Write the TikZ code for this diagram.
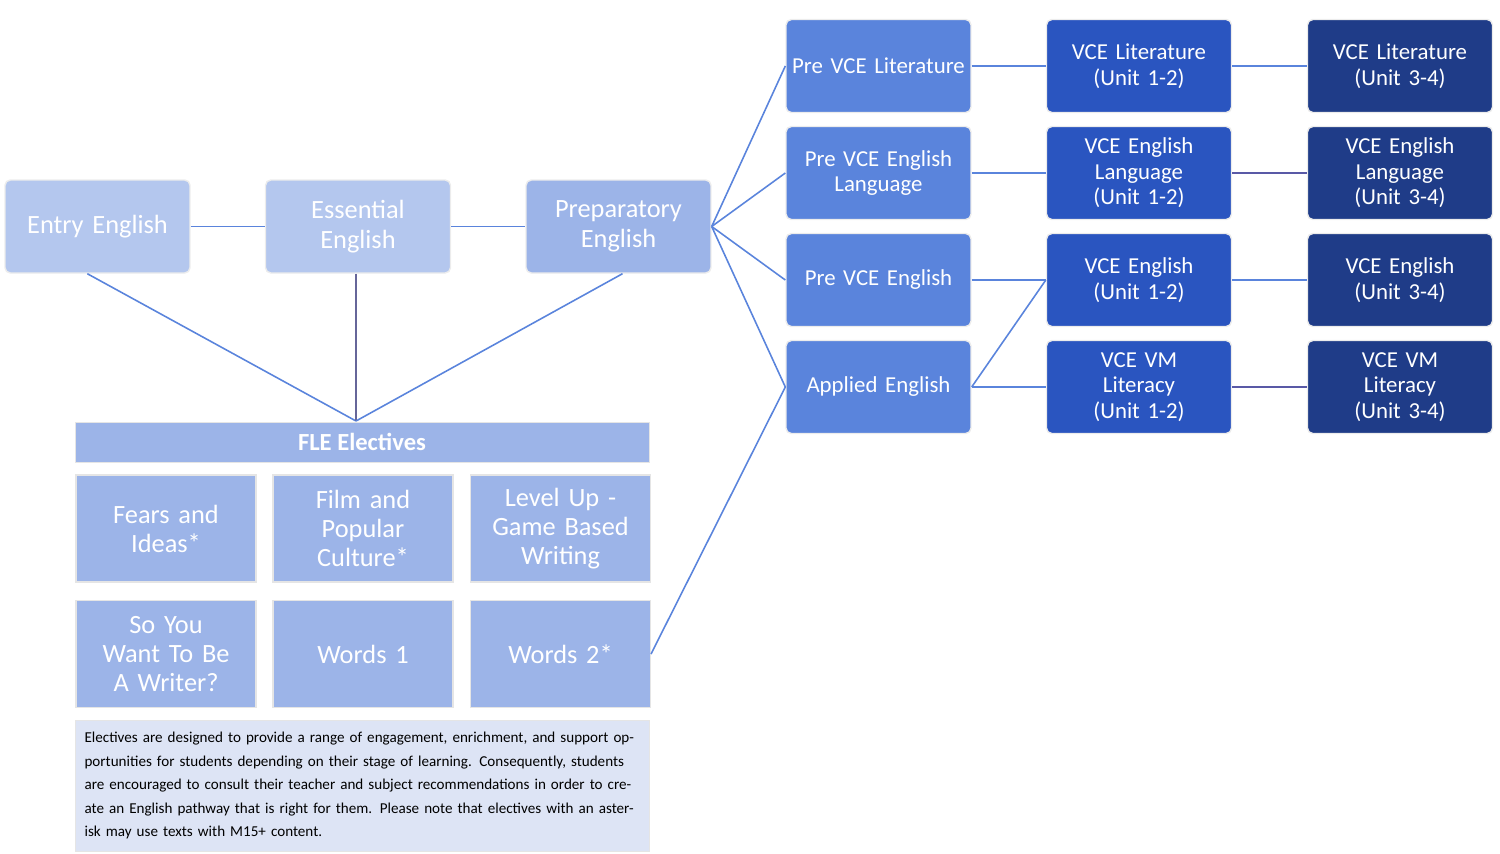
\documentclass[tikz,border=0pt]{standalone}
\usepackage{fontspec}
\setmainfont{Carlito}
\begin{document}
\begin{tikzpicture}[x=0.02cm,y=-0.02cm,
 box/.style={draw=white!85!gray,line width=0.8pt,rounded corners=3pt,minimum width=3.7cm,minimum height=1.86cm,text width=3.5cm,align=center,text=white,inner sep=1pt},
 big/.style={box,font=\fontsize{15}{17}\selectfont,fill=c1},
 mid/.style={box,font=\fontsize{13}{14.5}\selectfont},
 el/.style={draw=white!80!gray,line width=0.6pt,fill=c2,minimum width=3.6cm,minimum height=2.14cm,text width=3.4cm,align=center,text=white,font=\fontsize{15}{16.5}\selectfont,inner sep=1pt},
 ln/.style={draw=c3,line width=0.9pt}]
\definecolor{c1}{HTML}{B4C7EE}
\definecolor{c2}{HTML}{9CB4E8}
\definecolor{c3}{HTML}{5A84DC}
\definecolor{c4}{HTML}{2A55C0}
\definecolor{c5}{HTML}{1F3C88}
\definecolor{nt}{HTML}{DDE4F5}
\useasboundingbox (0,0) rectangle (1500,853);
\node[big] (entry) at (97.5,226.5) {Entry English};
\node[big] (ess) at (358,226.5) {Essential English};
\node[big,fill=c2] (prep) at (618.5,226.5) {Preparatory English};
\node[mid,fill=c3] (p1) at (878.5,66) {Pre VCE Literature};
\node[mid,fill=c3] (p2) at (878.5,173) {Pre VCE English Language};
\node[mid,fill=c3] (p3) at (878.5,280) {Pre VCE English};
\node[mid,fill=c3] (p4) at (878.5,387) {Applied English};
\node[mid,fill=c4] (v1) at (1139,66) {VCE Literature\\(Unit 1-2)};
\node[mid,fill=c4] (v2) at (1139,173) {VCE English Language\\(Unit 1-2)};
\node[mid,fill=c4] (v3) at (1139,280) {VCE English\\(Unit 1-2)};
\node[mid,fill=c4] (v4) at (1139,387) {VCE VM\\Literacy\\(Unit 1-2)};
\node[mid,fill=c5] (w1) at (1400,66) {VCE Literature\\(Unit 3-4)};
\node[mid,fill=c5] (w2) at (1400,173) {VCE English Language\\(Unit 3-4)};
\node[mid,fill=c5] (w3) at (1400,280) {VCE English\\(Unit 3-4)};
\node[mid,fill=c5] (w4) at (1400,387) {VCE VM\\Literacy\\(Unit 3-4)};
\node[fill=c2,draw=white!80!gray,minimum width=11.48cm,minimum height=0.8cm,text=white,font=\bfseries\fontsize{14}{16}\selectfont] (fle) at (362,442) {FLE Electives};
\node[el] (e1) at (166,528.5) {Fears and Ideas*};
\node[el] (e2) at (363,528.5) {Film and Popular Culture*};
\node[el] (e3) at (560.5,528.5) {Level Up - Game Based Writing};
\node[el] (e4) at (166,654) {So You Want To Be A Writer?};
\node[el] (e5) at (363,654) {Words 1};
\node[el] (e6) at (560.5,654) {Words 2*};
\node[fill=nt,draw=white!80!gray,minimum width=11.48cm,minimum height=2.62cm,text width=11.1cm,align=left,font=\fontsize{8.6}{13.4}\selectfont] (note) at (362,785.5) {Electives are designed to provide a range of engagement, enrichment, and support opportunities for students depending on their stage of learning. Consequently, students are encouraged to consult their teacher and subject recommendations in order to create an English pathway that is right for them. Please note that electives with an asterisk may use texts with M15+ content.};
\coordinate (hub) at (356,421);
\draw[ln] (entry.east) -- (ess.west);
\draw[ln] (ess.east) -- (prep.west);
\draw[ln] (entry.south west) ++(83,0) coordinate (a1);
\draw[ln] (a1) -- (hub);
\draw[ln,draw=gray!80!blue] (ess.south -| hub) -- (hub);
\draw[ln] ([xshift=0.08cm]prep.south) -- (hub);
\foreach \p in {p1,p2,p3,p4} \draw[ln] (prep.east) -- (\p.west);
\draw[ln] (e6.east) -- (p4.west);
\draw[ln] (p1) -- (v1) (v1) -- (w1) (p2) -- (v2) (p3) -- (v3) (v3) -- (w3) (p4) -- (v4);
\draw[ln,draw=gray!70!blue] (v2) -- (w2) (v4) -- (w4);
\draw[ln] (p4.east) -- (v3.west);
\foreach \n in {p1,p2,p3,p4,v1,v2,v3,v4,w1,w2,w3,w4,entry,ess,prep} \path (\n) node[] {};
\end{tikzpicture}
\end{document}
